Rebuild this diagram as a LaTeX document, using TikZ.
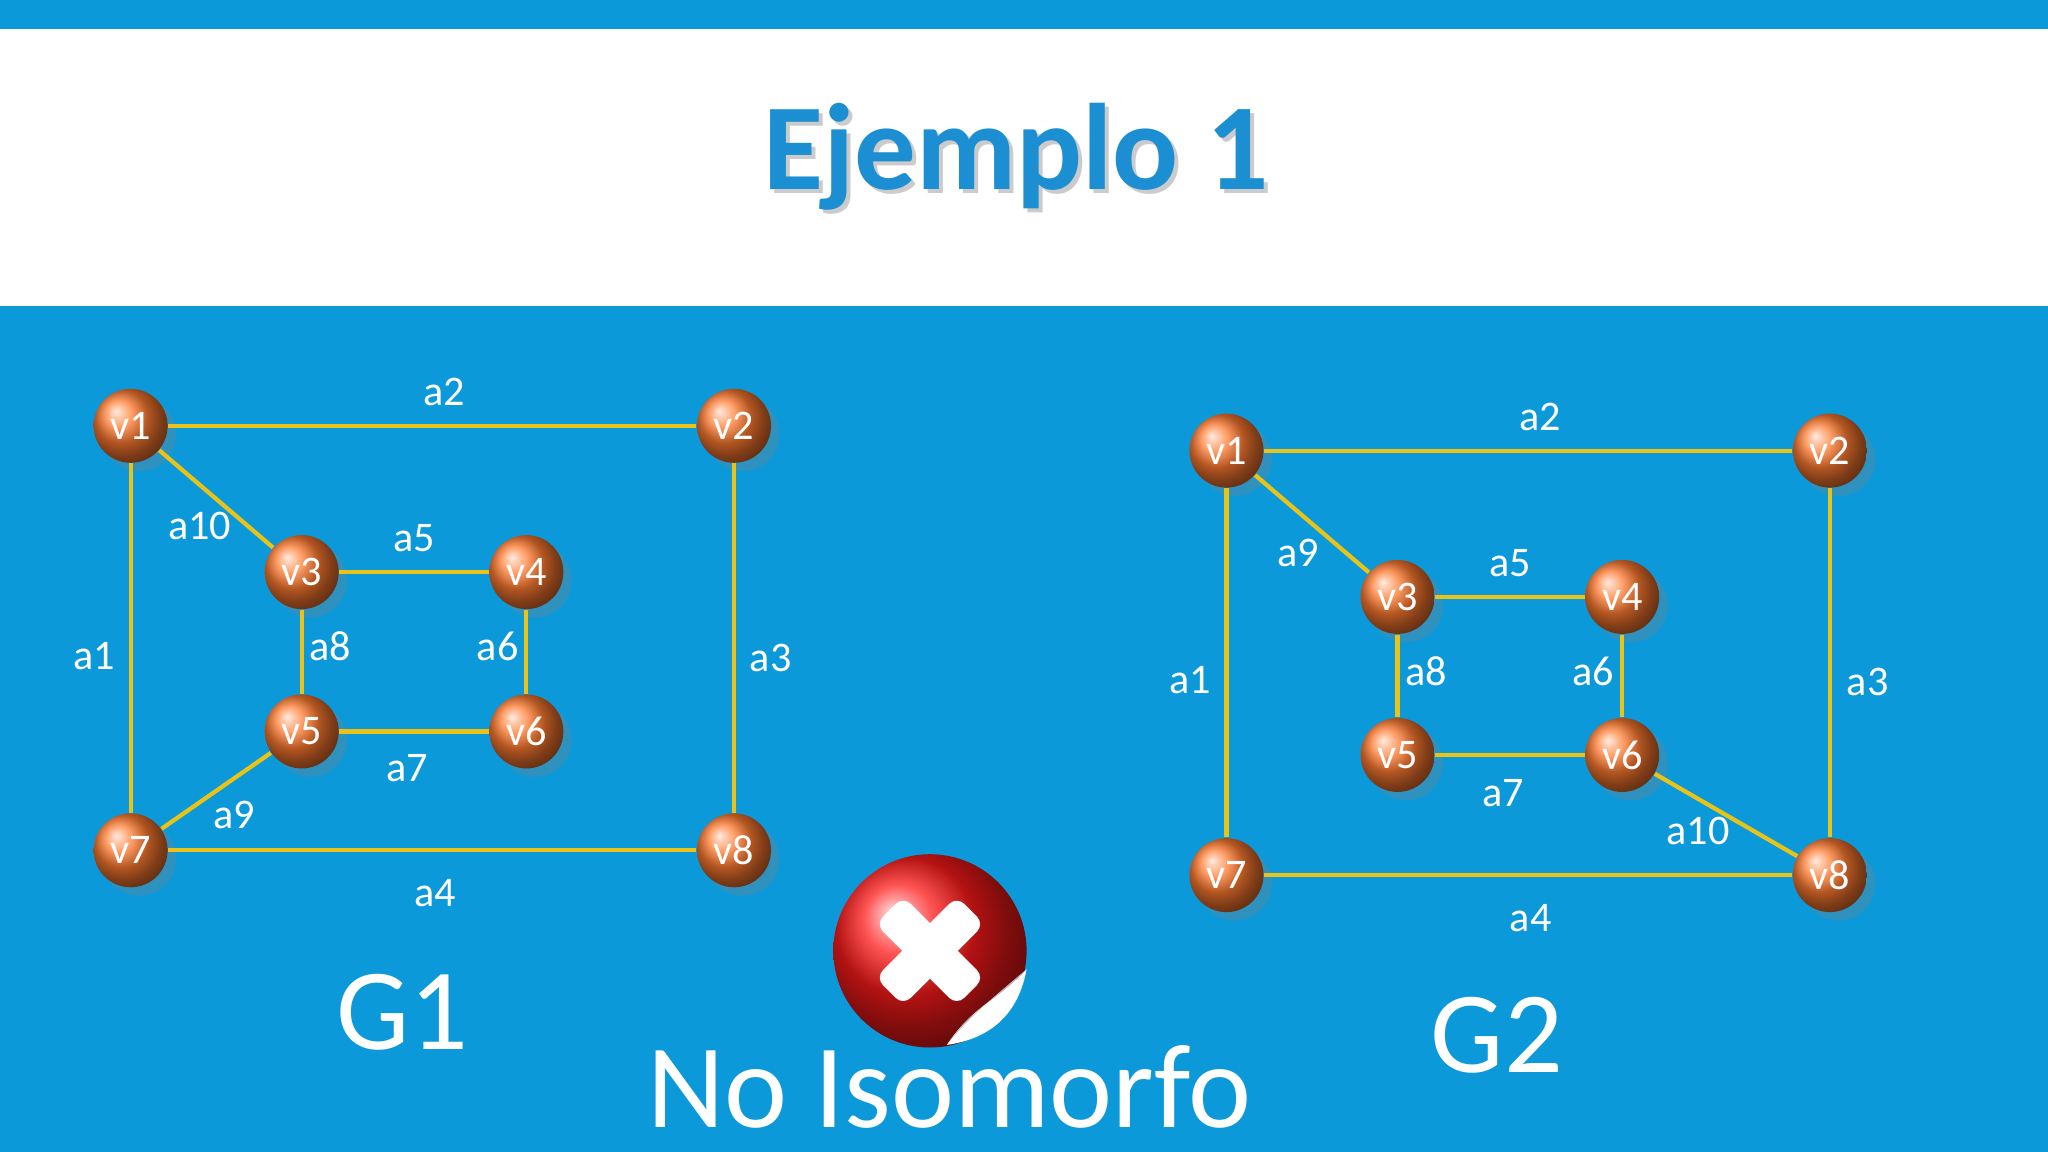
\documentclass[tikz,border=0pt]{standalone}
\usepackage{fontspec}
\setmainfont{Carlito}
\usetikzlibrary{positioning,shadows}
\definecolor{slideblue}{HTML}{0C99DA}
\definecolor{titleblue}{HTML}{1B8FD2}
\definecolor{edgeyellow}{HTML}{E9C317}
\definecolor{ballorange}{HTML}{FF7A30}
\tikzset{
  vert/.style={circle, minimum size=0.74cm, inner sep=0pt, shading=ball,
    ball color=ballorange, text=white, font=\fontsize{12}{12}\selectfont,
    drop shadow={opacity=0.3}},
  edge/.style={draw=edgeyellow, line width=1.2pt},
  elabel/.style={text=white, font=\fontsize{12}{12}\selectfont},
  gname/.style={text=white, font=\fontsize{33}{33}\selectfont}
}
\begin{document}
\begin{tikzpicture}[x=0.013061cm, y=-0.013061cm]
\useasboundingbox (0,0) rectangle (1568,882);
\fill[slideblue] (0,0) rectangle (1568,882);
\fill[white] (0,22) rectangle (1568,234);
\node[text=black!40, opacity=0.5, font=\bfseries\fontsize{35}{35}\selectfont] at (781,123) {Ejemplo 1};
\node (title) [text=titleblue, font=\bfseries\fontsize{35}{35}\selectfont] at (778,120) {Ejemplo 1};

% graph G1
\foreach \n/\x/\y in {1/100/326, 2/562/326, 3/231/438, 4/403/438,
                      5/231/560, 6/403/560, 7/100/651, 8/562/651}
  \node (p\n) [vert] at (\x,\y) {v\n};
\foreach \a/\b in {1/2, 2/8, 8/7, 7/1, 1/3, 3/4, 4/6, 6/5, 5/3, 5/7}
  \draw[edge] (p\a) -- (p\b);
\foreach \t/\x/\y in {a2/340/300, a10/153/403, a5/317/412, a1/72/502, a8/253/495,
                      a6/381/495, a3/590/504, a7/312/588, a9/179/624, a4/333/684}
  \node[elabel] at (\x,\y) {\t};
\node (gone) [gname] at (308,775) {G1};

% graph G2
\foreach \n/\x/\y in {1/939/345, 2/1401/345, 3/1070/457, 4/1242/457,
                      5/1070/578, 6/1242/578, 7/939/670, 8/1401/670}
  \node (q\n) [vert] at (\x,\y) {v\n};
\foreach \a/\b in {1/2, 2/8, 8/7, 7/1, 1/3, 3/4, 4/6, 6/5, 5/3, 6/8}
  \draw[edge] (q\a) -- (q\b);
\foreach \t/\x/\y in {a2/1179/319, a9/994/423, a5/1156/431, a1/911/521, a8/1092/514,
                      a6/1220/514, a3/1430/522, a7/1151/607, a10/1300/636, a4/1172/703}
  \node[elabel] at (\x,\y) {\t};
\node (gtwo) [gname] at (1146,793) {G2};

% sticker
\shade[ball color=red!90!white] (712,728) circle (74);
\fill[white, rounded corners=3, rotate around={45:(712,728)}] (668,713) rectangle (756,743);
\fill[white, rounded corners=3, rotate around={-45:(712,728)}] (668,713) rectangle (756,743);
\fill[white] (725,800) .. controls (760,795) and (780,775) .. (786,742)
  .. controls (765,765) and (745,770) .. (725,800) -- cycle;
\fill[black!25] (786,742) .. controls (765,765) and (745,770) .. (725,800)
  .. controls (742,778) and (765,760) .. (786,742);
\node (result) [text=white, font=\fontsize{34}{34}\selectfont] at (727,832) {No Isomorfo};
\end{tikzpicture}
\end{document}
